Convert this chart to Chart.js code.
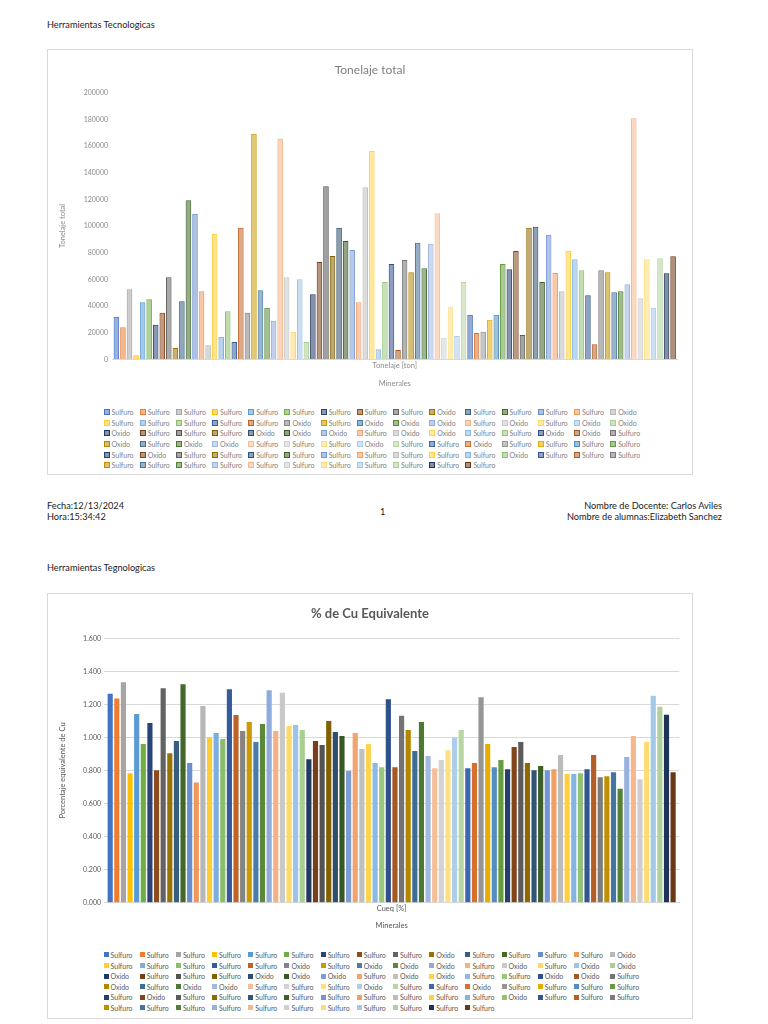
<!DOCTYPE html>
<html lang="es">
<head>
<meta charset="utf-8">
<title>Herramientas Tecnologicas</title>
<script src="https://cdn.jsdelivr.net/npm/chart.js@4.4.1/dist/chart.umd.min.js"></script>
<style>
  body { margin: 0; background: #fff; font-family: Lato, "Liberation Sans", sans-serif; }
  #pagina { position: relative; width: 768px; height: 1024px; overflow: hidden; }
  .texto { position: absolute; font-size: 9.2px; line-height: 11px; color: #222; white-space: nowrap; }
  .caja { position: absolute; left: 47px; width: 646px; height: 426px; border: 1px solid #d9d9d9; box-sizing: border-box; }
  .lienzo { position: absolute; left: 0; top: 0; width: 644px; height: 355px; }
  .leyenda { position: absolute; left: 55.5px; display: grid; grid-template-columns: repeat(15, 36.2px); grid-auto-rows: 10.6px; font-size: 7px; }
  .item { display: flex; align-items: center; white-space: nowrap; }
  .marca { width: 5px; height: 5px; margin-right: 2px; box-sizing: border-box; flex: none; }
</style>
</head>
<body>
<div id="pagina">
  <div class="texto" style="left:47px; top:18.5px;">Herramientas Tecnologicas</div>

  <div class="caja" style="top:49px;">
    <div class="lienzo"><canvas id="graficaTonelaje"></canvas></div>
    <div class="leyenda" id="leyendaTonelaje" style="top:357px; color:#7f7f7f;"></div>
  </div>

  <div class="texto" style="left:47px; top:499.5px;">Fecha:12/13/2024</div>
  <div class="texto" style="left:47px; top:510.5px;">Hora:15:34:42</div>
  <div class="texto" style="left:380px; top:505.5px;">1</div>
  <div class="texto" style="right:46px; top:499.5px; text-align:right;">Nombre de Docente: Carlos Aviles</div>
  <div class="texto" style="right:46px; top:510.5px; text-align:right;">Nombre de alumnas:Elizabeth Sanchez</div>

  <div class="texto" style="left:47px; top:561.8px;">Herramientas Tegnologicas</div>

  <div class="caja" style="top:593px;">
    <div class="lienzo"><canvas id="graficaCobre"></canvas></div>
    <div class="leyenda" id="leyendaCobre" style="top:355.7px; color:#595959;"></div>
  </div>
</div>

<script>
// categorias (una sola por grafica)
const categoriaTon = ['Tonelaje [ton]'];
const categoriaCu = ['Cueq [%]'];

// tipo de mineral de cada serie (orden de la leyenda)
const tipos = [
  'Sulfuro','Sulfuro','Sulfuro','Sulfuro','Sulfuro','Sulfuro','Sulfuro','Sulfuro','Sulfuro','Oxido','Sulfuro','Sulfuro','Sulfuro','Sulfuro','Oxido',
  'Sulfuro','Sulfuro','Sulfuro','Sulfuro','Sulfuro','Oxido','Sulfuro','Oxido','Oxido','Oxido','Sulfuro','Oxido','Sulfuro','Oxido','Oxido',
  'Oxido','Sulfuro','Sulfuro','Sulfuro','Oxido','Oxido','Oxido','Sulfuro','Oxido','Oxido','Sulfuro','Sulfuro','Oxido','Oxido','Sulfuro',
  'Oxido','Sulfuro','Oxido','Oxido','Sulfuro','Sulfuro','Sulfuro','Oxido','Sulfuro','Sulfuro','Oxido','Sulfuro','Sulfuro','Sulfuro','Sulfuro',
  'Sulfuro','Oxido','Sulfuro','Sulfuro','Sulfuro','Sulfuro','Sulfuro','Sulfuro','Sulfuro','Sulfuro','Sulfuro','Oxido','Sulfuro','Sulfuro','Sulfuro',
  'Sulfuro','Sulfuro','Sulfuro','Sulfuro','Sulfuro','Sulfuro','Sulfuro','Sulfuro','Sulfuro','Sulfuro','Sulfuro'
];

// tonelaje total [ton] por serie
const tonelaje = [
  32000, 24000, 52500, 3000, 42750, 45000, 26000, 35000, 61500, 8500, 43500, 119250, 109250, 51000, 10500,
  94250, 17000, 36000, 13000, 98750, 35000, 169250, 51750, 38750, 29000, 165500, 61500, 20750, 60000, 13000,
  48750, 73000, 129750, 77500, 98750, 88750, 82000, 42750, 129000, 156250, 7500, 58000, 71500, 7000, 74500,
  65250, 87500, 68250, 86750, 109500, 16250, 39500, 17500, 58000, 33500, 19750, 20750, 29750, 33500, 71500,
  67500, 81250, 18250, 98750, 99500, 58000, 93500, 64750, 51000, 81250, 75000, 66750, 48000, 11250, 66750,
  65250, 50250, 51000, 56250, 180750, 45750, 75000, 38750, 75750, 64500, 77250
];

// % de Cu equivalente por serie
const cueq = [
  1.265, 1.235, 1.334, 0.783, 1.142, 0.960, 1.088, 0.801, 1.297, 0.904, 0.979, 1.322, 0.845, 0.728, 1.190,
  0.999, 1.027, 0.991, 1.291, 1.136, 1.039, 1.094, 0.973, 1.082, 1.285, 1.039, 1.271, 1.069, 1.075, 1.045,
  0.868, 0.979, 0.954, 1.100, 1.033, 1.009, 0.797, 1.027, 0.930, 0.960, 0.845, 0.819, 1.231, 0.819, 1.132,
  1.045, 0.918, 1.094, 0.888, 0.813, 0.864, 0.922, 0.999, 1.045, 0.813, 0.845, 1.243, 0.960, 0.819, 0.864,
  0.807, 0.942, 0.973, 0.845, 0.801, 0.827, 0.801, 0.807, 0.894, 0.779, 0.779, 0.783, 0.807, 0.894, 0.759,
  0.765, 0.789, 0.690, 0.882, 1.009, 0.747, 0.973, 1.253, 1.186, 1.138, 0.789
];

// colores tipo Office: 6 acentos y variantes mas oscuras / mas claras por cada vuelta
const acentos = ['#4472C4', '#ED7D31', '#A5A5A5', '#FFC000', '#5B9BD5', '#70AD47'];
const variantes = [0, -0.4, 0.2, -0.2, 0.4, -0.5, 0.3, -0.3, 0.5, -0.1, -0.45, 0.25, -0.25, 0.45, -0.55];

function colorSerie(i, alfa) {
  const hex = acentos[i % 6];
  const v = variantes[Math.floor(i / 6) % variantes.length];
  let rgb = [1, 3, 5].map(p => parseInt(hex.slice(p, p + 2), 16));
  rgb = rgb.map(c => v < 0 ? c * (1 + v) : c + (255 - c) * v).map(Math.round);
  return 'rgba(' + rgb.join(',') + ',' + alfa + ')';
}

Chart.defaults.font.family = 'Lato, "Liberation Sans", sans-serif';
Chart.defaults.animation = false;

function llenarLeyenda(grafica, idLeyenda, conBorde) {
  const caja = document.getElementById(idLeyenda);
  grafica.data.datasets.forEach(ds => {
    const item = document.createElement('div');
    item.className = 'item';
    const marca = document.createElement('span');
    marca.className = 'marca';
    marca.style.background = ds.backgroundColor;
    if (conBorde) {
      marca.style.border = '1px solid ' + ds.borderColor;
      marca.style.width = '6px';
      marca.style.height = '6px';
    }
    const texto = document.createElement('span');
    texto.textContent = ds.label;
    item.append(marca, texto);
    caja.appendChild(item);
  });
}

const graficaTonelaje = new Chart(document.getElementById('graficaTonelaje'), {
  type: 'bar',
  data: {
    labels: categoriaTon,
    datasets: tipos.map((tipo, i) => ({
      label: tipo,
      data: [tonelaje[i]],
      backgroundColor: colorSerie(i, 0.55),
      borderColor: colorSerie(i, 1),
      borderWidth: 1,
      categoryPercentage: 0.996,
      barPercentage: 0.85
    }))
  },
  options: {
    responsive: true,
    maintainAspectRatio: false,
    layout: { padding: { left: 14.5, right: 14.5, top: 0, bottom: 0 } },
    plugins: {
      legend: { display: false },
      tooltip: { enabled: false },
      title: {
        display: true,
        text: 'Tonelaje total',
        color: '#7f7f7f',
        font: { size: 12, weight: 'normal' },
        padding: { top: 12.8, bottom: 15.5 }
      }
    },
    scales: {
      x: {
        grid: { display: false, drawTicks: false },
        border: { display: true, color: '#d9d9d9' },
        ticks: { color: '#8c8c8c', font: { size: 7.5 }, padding: 1.9 },
        title: { display: true, text: 'Minerales', color: '#8c8c8c', font: { size: 7.5 }, padding: { top: 0, bottom: 16.8 } },
        afterFit: s => { s.height = 45.7; }
      },
      y: {
        min: 0,
        max: 200000,
        grid: { display: false, drawTicks: false },
        border: { display: false },
        ticks: { stepSize: 20000, color: '#8c8c8c', font: { size: 7 }, padding: 4, callback: v => String(v) },
        title: { display: true, text: 'Tonelaje total', color: '#8c8c8c', font: { size: 7.5 }, padding: { top: -4, bottom: 0 } },
        afterFit: s => { s.width = 49.5; }
      }
    }
  }
});
llenarLeyenda(graficaTonelaje, 'leyendaTonelaje', true);

const graficaCobre = new Chart(document.getElementById('graficaCobre'), {
  type: 'bar',
  data: {
    labels: categoriaCu,
    datasets: tipos.map((tipo, i) => ({
      label: tipo,
      data: [cueq[i]],
      backgroundColor: colorSerie(i, 1),
      borderWidth: 0,
      categoryPercentage: 0.99,
      barPercentage: 0.78
    }))
  },
  options: {
    responsive: true,
    maintainAspectRatio: false,
    layout: { padding: { left: 12.7, right: 12.7, top: 0, bottom: 0 } },
    plugins: {
      legend: { display: false },
      tooltip: { enabled: false },
      title: {
        display: true,
        text: '% de Cu Equivalente',
        color: '#595959',
        font: { size: 13, weight: 'bold' },
        padding: { top: 12.2, bottom: 16.5 }
      }
    },
    scales: {
      x: {
        grid: { display: false, drawTicks: false },
        border: { display: true, color: '#d9d9d9' },
        ticks: { color: '#595959', font: { size: 7.5 }, padding: 1.1 },
        title: { display: true, text: 'Minerales', color: '#595959', font: { size: 7.5 }, padding: { top: 0, bottom: 18.8 } },
        afterFit: s => { s.height = 46.3; }
      },
      y: {
        min: 0,
        max: 1.6,
        grid: { color: '#d9d9d9', drawTicks: false },
        border: { display: false },
        ticks: { stepSize: 0.2, color: '#595959', font: { size: 7 }, padding: 3, callback: v => Number(v).toFixed(3) },
        title: { display: true, text: 'Porcentaje equivalente de Cu', color: '#595959', font: { size: 7.5 }, padding: { top: -2.2, bottom: 0 } },
        afterFit: s => { s.width = 43.3; }
      }
    }
  }
});
llenarLeyenda(graficaCobre, 'leyendaCobre', false);
</script>
</body>
</html>
